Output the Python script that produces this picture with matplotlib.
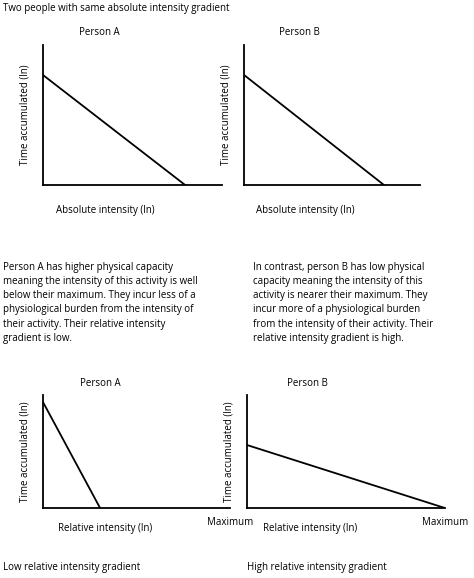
import matplotlib
matplotlib.use("Agg")
import matplotlib.pyplot as plt

plt.rcParams['font.family'] = ['Open Sans', 'DejaVu Sans']
FS = 7.0

panels = ["Person A", "Person B", "Person A", "Person B"]
xlabels = ["Absolute intensity (ln)", "Absolute intensity (ln)", "Relative intensity (ln)", "Relative intensity (ln)"]
ylabel = "Time accumulated (ln)"
line_x = [[0, 0.793], [0, 0.795], [0, 0.305], [0, 1.0]]
line_y = [[0.786, 0], [0.786, 0], [0.938, 0], [0.558, 0]]
rects = [[0.0907, 0.680, 0.378, 0.242], [0.515, 0.680, 0.371, 0.242],
         [0.0907, 0.121, 0.395, 0.1955], [0.521, 0.121, 0.418, 0.1955]]

fig = plt.figure(figsize=(4.74, 5.78), dpi=100)
for i in range(4):
    ax = fig.add_axes(rects[i])
    ax.plot(line_x[i], line_y[i], color='black', lw=1.3)
    ax.set_xlim(0, 1); ax.set_ylim(0, 1)
    ax.set_xticks([]); ax.set_yticks([])
    for s in ['top', 'right']:
        ax.spines[s].set_visible(False)
    for s in ['left', 'bottom']:
        ax.spines[s].set_linewidth(1.3)
    ax.text(0.2, 1.05, panels[i], transform=ax.transAxes, fontsize=FS, va='bottom')
    ax.set_ylabel(ylabel, fontsize=FS, labelpad=9)
    ax.set_xlabel(xlabels[i], fontsize=FS, loc='left')
    ax.xaxis.set_label_coords(0.07 if i < 2 else 0.08, -0.14 if i < 2 else -0.13)
    if i >= 2:
        ax.text(1.0, -0.13, "Maximum", transform=ax.transAxes, fontsize=FS, ha='center', va='center')

fig.text(0.006, 0.986, "Two people with same absolute intensity gradient", fontsize=FS, va='center')
fig.text(0.006, 0.547, "Person A has higher physical capacity\nmeaning the intensity of this activity is well\nbelow their maximum. They incur less of a\nphysiological burden from the intensity of\ntheir activity. Their relative intensity\ngradient is low.",
         fontsize=FS, va='top', linespacing=1.4)
fig.text(0.533, 0.547, "In contrast, person B has low physical\ncapacity meaning the intensity of this\nactivity is nearer their maximum. They\nincur more of a physiological burden\nfrom the intensity of their activity. Their\nrelative intensity gradient is high.",
         fontsize=FS, va='top', linespacing=1.4)
fig.text(0.006, 0.019, "Low relative intensity gradient", fontsize=FS, va='center')
fig.text(0.521, 0.019, "High relative intensity gradient", fontsize=FS, va='center')
fig.savefig("out.png", dpi=100)
